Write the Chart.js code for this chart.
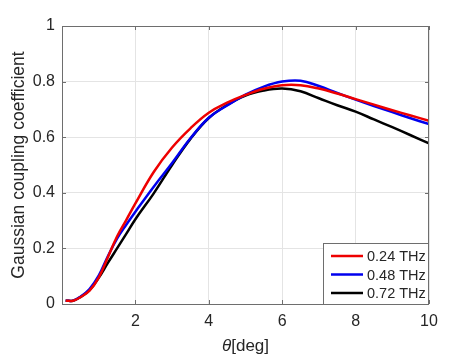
<!DOCTYPE html>
<html>
<head>
<meta charset="utf-8">
<script src="https://cdn.jsdelivr.net/npm/chart.js@4"></script>
<style>
  html, body { margin: 0; padding: 0; background: #fff; }
  canvas { display: block; }
</style>
</head>
<body>
<canvas id="gaussChart" width="474" height="354"></canvas>
<script>
const thetaDeg = [0.1, 0.3, 0.5, 0.75, 1, 1.25, 1.5, 1.75, 2, 2.5, 3, 3.5, 4, 4.5, 5, 5.5, 6, 6.5, 7, 7.5, 8, 8.5, 9, 9.5, 10];
const coupling024 = [0.012, 0.012, 0.024, 0.048, 0.095, 0.168, 0.243, 0.302, 0.362, 0.475, 0.563, 0.632, 0.688, 0.724, 0.752, 0.774, 0.787, 0.787, 0.775, 0.757, 0.737, 0.717, 0.697, 0.678, 0.659];
const coupling048 = [0.012, 0.012, 0.026, 0.054, 0.102, 0.172, 0.235, 0.285, 0.332, 0.422, 0.507, 0.596, 0.670, 0.714, 0.753, 0.782, 0.800, 0.803, 0.784, 0.759, 0.735, 0.712, 0.690, 0.668, 0.647];
const coupling072 = [0.012, 0.012, 0.025, 0.050, 0.094, 0.148, 0.200, 0.252, 0.305, 0.398, 0.500, 0.594, 0.669, 0.716, 0.750, 0.768, 0.775, 0.765, 0.740, 0.715, 0.692, 0.664, 0.636, 0.607, 0.578];
const seriesLabels = ["0.24 THz", "0.48 THz", "0.72 THz"];
const xTickValues = [2, 4, 6, 8, 10];

const FONT = "'Liberation Sans', Arial, sans-serif";

function toPoints(ys) {
    return thetaDeg.map((x, i) => ({ x: x, y: ys[i] }));
}

// box round the plot plus small inward tick marks, like matlab "box on"
const axesBox = {
    id: "axesBox",
    afterDatasetsDraw(chart) {
        const { ctx, chartArea: a, scales } = chart;
        ctx.save();
        ctx.strokeStyle = "#6e6e6e";
        ctx.lineWidth = 1;
        ctx.strokeRect(a.left + 0.5, a.top + 0.5, a.right - a.left - 1, a.bottom - a.top);
        ctx.beginPath();
        scales.x.ticks.forEach(t => {
            const px = Math.round(scales.x.getPixelForValue(t.value)) + 0.5;
            ctx.moveTo(px, a.bottom); ctx.lineTo(px, a.bottom - 4);
            ctx.moveTo(px, a.top); ctx.lineTo(px, a.top + 4);
        });
        scales.y.ticks.forEach(t => {
            const py = Math.round(scales.y.getPixelForValue(t.value)) + 0.5;
            ctx.moveTo(a.left, py); ctx.lineTo(a.left + 4, py);
            ctx.moveTo(a.right, py); ctx.lineTo(a.right - 4, py);
        });
        ctx.stroke();
        ctx.restore();
    }
};

// legend box in the lower right corner of the axes
const cornerLegend = {
    id: "cornerLegend",
    afterDraw(chart) {
        const { ctx, chartArea: a } = chart;
        const w = 106, h = 61;
        const x0 = a.right - w, y0 = a.bottom - h;
        ctx.save();
        ctx.fillStyle = "#fff";
        ctx.fillRect(x0, y0, w, h);
        ctx.strokeStyle = "#6e6e6e";
        ctx.lineWidth = 1;
        ctx.strokeRect(x0 + 0.5, y0 + 0.5, w - 1, h);
        ctx.font = "14.5px " + FONT;
        ctx.textBaseline = "middle";
        ctx.textAlign = "left";
        chart.data.datasets.forEach((ds, i) => {
            const cy = y0 + 13 + i * 18.5;
            ctx.strokeStyle = ds.borderColor;
            ctx.lineWidth = 2.5;
            ctx.beginPath();
            ctx.moveTo(x0 + 8, cy);
            ctx.lineTo(x0 + 40, cy);
            ctx.stroke();
            ctx.fillStyle = "#262626";
            ctx.fillText(ds.label, x0 + 44, cy + 1);
        });
        ctx.restore();
    }
};

// x title with an italic theta
const xTitle = {
    id: "xTitle",
    afterDraw(chart) {
        const { ctx, chartArea: a } = chart;
        const italic = "italic 17px " + FONT;
        const normal = "17px " + FONT;
        ctx.save();
        ctx.fillStyle = "#262626";
        ctx.textBaseline = "middle";
        ctx.font = italic;
        const w1 = ctx.measureText("θ").width;
        ctx.font = normal;
        const w2 = ctx.measureText("[deg]").width;
        const cx = (a.left + a.right) / 2;
        const x = cx - (w1 + w2) / 2;
        const y = 346;
        ctx.font = italic;
        ctx.fillText("θ", x, y);
        ctx.font = normal;
        ctx.fillText("[deg]", x + w1, y);
        ctx.restore();
    }
};

const ctx = document.getElementById("gaussChart").getContext("2d");
new Chart(ctx, {
    type: "line",
    data: {
        datasets: [
            { label: seriesLabels[0], data: toPoints(coupling024), borderColor: "#ee0000" },
            { label: seriesLabels[1], data: toPoints(coupling048), borderColor: "#0000ee" },
            { label: seriesLabels[2], data: toPoints(coupling072), borderColor: "#000000" }
        ].map(d => Object.assign(d, {
            borderWidth: 2.5,
            pointRadius: 0,
            fill: false,
            tension: 0.4
        }))
    },
    options: {
        responsive: false,
        animation: false,
        layout: { padding: { left: 0, top: 26, right: 45, bottom: 0 } },
        plugins: {
            legend: { display: false },
            tooltip: { enabled: false }
        },
        scales: {
            x: {
                type: "linear",
                min: 0,
                max: 10,
                afterBuildTicks: s => { s.ticks = xTickValues.map(v => ({ value: v })); },
                afterFit: s => { s.height = 50; },
                grid: { color: "#e4e4e4", drawTicks: false },
                border: { display: false },
                ticks: { color: "#262626", font: { family: FONT, size: 16 }, padding: 8 }
            },
            y: {
                min: 0,
                max: 1,
                afterFit: s => { s.width = 62; },
                grid: { color: "#e4e4e4", drawTicks: false },
                border: { display: false },
                ticks: {
                    stepSize: 0.2,
                    color: "#262626",
                    font: { family: FONT, size: 16 },
                    padding: 7,
                    callback: v => String(+v.toFixed(1))
                },
                title: {
                    display: true,
                    text: "Gaussian coupling coefficient",
                    color: "#262626",
                    font: { family: FONT, size: 17.5 },
                    padding: { top: 9, bottom: 0 }
                }
            }
        }
    },
    plugins: [axesBox, cornerLegend, xTitle]
});
</script>
</body>
</html>
